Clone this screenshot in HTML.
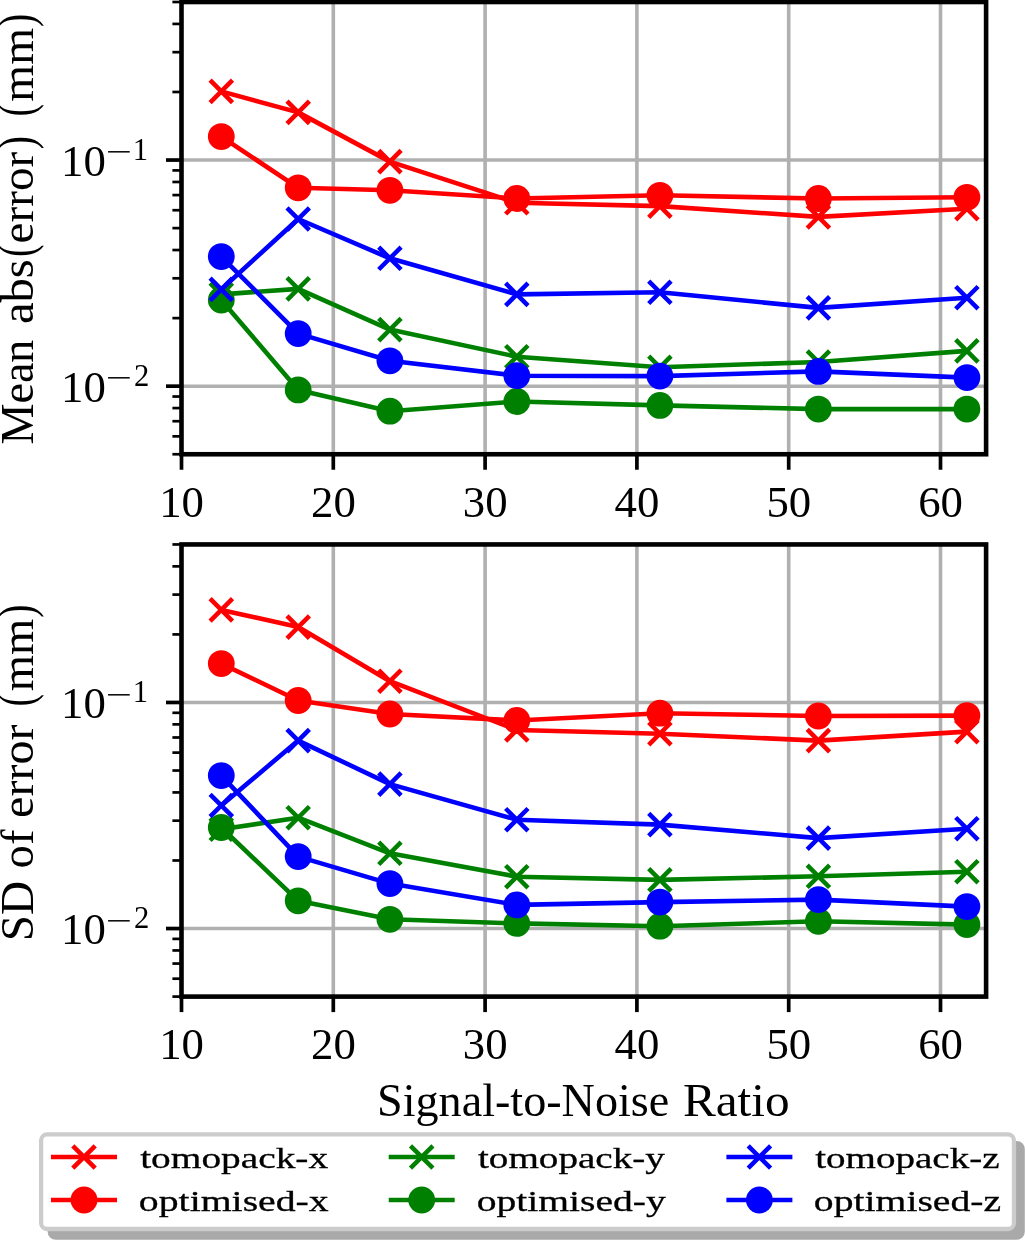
<!DOCTYPE html>
<html lang="en"><head><meta charset="utf-8"><title>Error vs Signal-to-Noise Ratio</title>
<style>html,body{margin:0;padding:0;background:#fff}svg{display:block}</style></head><body>
<svg width="1025" height="1240" viewBox="0 0 1025 1240">
<rect x="0" y="0" width="1025" height="1240" fill="#fff"/>
<defs>
<clipPath id="clip1"><rect x="181.5" y="2" width="804.6" height="452.25"/></clipPath>
<clipPath id="clip2"><rect x="181.5" y="544.45" width="804.6" height="452.15"/></clipPath>
</defs>
<g id="axes1">
<g stroke="#b0b0b0" stroke-width="3.6">
<line x1="333.3" y1="2" x2="333.3" y2="454.25"/>
<line x1="485.1" y1="2" x2="485.1" y2="454.25"/>
<line x1="636.9" y1="2" x2="636.9" y2="454.25"/>
<line x1="788.7" y1="2" x2="788.7" y2="454.25"/>
<line x1="940.5" y1="2" x2="940.5" y2="454.25"/>
<line x1="181.5" y1="160.05" x2="986.1" y2="160.05"/>
<line x1="181.5" y1="386.18" x2="986.1" y2="386.18"/>
</g>
<g clip-path="url(#clip1)">
<polyline points="221.3,91.4 298.2,112.4 389.9,161.6 516.8,202.8 659.9,206.1 818.4,216.9 966.9,208.7" fill="none" stroke="#ff0000" stroke-width="4.6" stroke-linejoin="round"/>
<path d="M210.1 80.2L232.5 102.6M210.1 102.6L232.5 80.2" stroke="#ff0000" stroke-width="4.5" fill="none"/>
<path d="M287 101.2L309.4 123.6M287 123.6L309.4 101.2" stroke="#ff0000" stroke-width="4.5" fill="none"/>
<path d="M378.7 150.4L401.1 172.8M378.7 172.8L401.1 150.4" stroke="#ff0000" stroke-width="4.5" fill="none"/>
<path d="M505.6 191.6L528 214M505.6 214L528 191.6" stroke="#ff0000" stroke-width="4.5" fill="none"/>
<path d="M648.7 194.9L671.1 217.3M648.7 217.3L671.1 194.9" stroke="#ff0000" stroke-width="4.5" fill="none"/>
<path d="M807.2 205.7L829.6 228.1M807.2 228.1L829.6 205.7" stroke="#ff0000" stroke-width="4.5" fill="none"/>
<path d="M955.7 197.5L978.1 219.9M955.7 219.9L978.1 197.5" stroke="#ff0000" stroke-width="4.5" fill="none"/>
<polyline points="221.3,136.6 298.2,187.8 389.9,190.3 516.8,198.5 659.9,195.3 818.4,198.5 966.9,197.3" fill="none" stroke="#ff0000" stroke-width="4.6" stroke-linejoin="round"/>
<circle cx="221.3" cy="136.6" r="13.4" fill="#ff0000"/>
<circle cx="298.2" cy="187.8" r="13.4" fill="#ff0000"/>
<circle cx="389.9" cy="190.3" r="13.4" fill="#ff0000"/>
<circle cx="516.8" cy="198.5" r="13.4" fill="#ff0000"/>
<circle cx="659.9" cy="195.3" r="13.4" fill="#ff0000"/>
<circle cx="818.4" cy="198.5" r="13.4" fill="#ff0000"/>
<circle cx="966.9" cy="197.3" r="13.4" fill="#ff0000"/>
<polyline points="221.3,294.4 298.2,288.9 389.9,329.6 516.8,356.7 659.9,367.3 818.4,362 966.9,350.9" fill="none" stroke="#008000" stroke-width="4.6" stroke-linejoin="round"/>
<path d="M210.1 283.2L232.5 305.6M210.1 305.6L232.5 283.2" stroke="#008000" stroke-width="4.5" fill="none"/>
<path d="M287 277.7L309.4 300.1M287 300.1L309.4 277.7" stroke="#008000" stroke-width="4.5" fill="none"/>
<path d="M378.7 318.4L401.1 340.8M378.7 340.8L401.1 318.4" stroke="#008000" stroke-width="4.5" fill="none"/>
<path d="M505.6 345.5L528 367.9M505.6 367.9L528 345.5" stroke="#008000" stroke-width="4.5" fill="none"/>
<path d="M648.7 356.1L671.1 378.5M648.7 378.5L671.1 356.1" stroke="#008000" stroke-width="4.5" fill="none"/>
<path d="M807.2 350.8L829.6 373.2M807.2 373.2L829.6 350.8" stroke="#008000" stroke-width="4.5" fill="none"/>
<path d="M955.7 339.7L978.1 362.1M955.7 362.1L978.1 339.7" stroke="#008000" stroke-width="4.5" fill="none"/>
<polyline points="221.3,300 298.2,389.9 389.9,411.2 516.8,401.5 659.9,405.4 818.4,409.1 966.9,409.1" fill="none" stroke="#008000" stroke-width="4.6" stroke-linejoin="round"/>
<circle cx="221.3" cy="300" r="13.4" fill="#008000"/>
<circle cx="298.2" cy="389.9" r="13.4" fill="#008000"/>
<circle cx="389.9" cy="411.2" r="13.4" fill="#008000"/>
<circle cx="516.8" cy="401.5" r="13.4" fill="#008000"/>
<circle cx="659.9" cy="405.4" r="13.4" fill="#008000"/>
<circle cx="818.4" cy="409.1" r="13.4" fill="#008000"/>
<circle cx="966.9" cy="409.1" r="13.4" fill="#008000"/>
<polyline points="221.3,289.4 298.2,219 389.9,258.3 516.8,294.4 659.9,292.3 818.4,307.9 966.9,297.7" fill="none" stroke="#0000ff" stroke-width="4.6" stroke-linejoin="round"/>
<path d="M210.1 278.2L232.5 300.6M210.1 300.6L232.5 278.2" stroke="#0000ff" stroke-width="4.5" fill="none"/>
<path d="M287 207.8L309.4 230.2M287 230.2L309.4 207.8" stroke="#0000ff" stroke-width="4.5" fill="none"/>
<path d="M378.7 247.1L401.1 269.5M378.7 269.5L401.1 247.1" stroke="#0000ff" stroke-width="4.5" fill="none"/>
<path d="M505.6 283.2L528 305.6M505.6 305.6L528 283.2" stroke="#0000ff" stroke-width="4.5" fill="none"/>
<path d="M648.7 281.1L671.1 303.5M648.7 303.5L671.1 281.1" stroke="#0000ff" stroke-width="4.5" fill="none"/>
<path d="M807.2 296.7L829.6 319.1M807.2 319.1L829.6 296.7" stroke="#0000ff" stroke-width="4.5" fill="none"/>
<path d="M955.7 286.5L978.1 308.9M955.7 308.9L978.1 286.5" stroke="#0000ff" stroke-width="4.5" fill="none"/>
<polyline points="221.3,256.6 298.2,333.6 389.9,360.8 516.8,375.7 659.9,376.1 818.4,371.4 966.9,377.6" fill="none" stroke="#0000ff" stroke-width="4.6" stroke-linejoin="round"/>
<circle cx="221.3" cy="256.6" r="13.4" fill="#0000ff"/>
<circle cx="298.2" cy="333.6" r="13.4" fill="#0000ff"/>
<circle cx="389.9" cy="360.8" r="13.4" fill="#0000ff"/>
<circle cx="516.8" cy="375.7" r="13.4" fill="#0000ff"/>
<circle cx="659.9" cy="376.1" r="13.4" fill="#0000ff"/>
<circle cx="818.4" cy="371.4" r="13.4" fill="#0000ff"/>
<circle cx="966.9" cy="377.6" r="13.4" fill="#0000ff"/>
</g>
<g stroke="#000" stroke-width="3.7">
<line x1="181.5" y1="454.25" x2="181.5" y2="469.75"/>
<line x1="333.3" y1="454.25" x2="333.3" y2="469.75"/>
<line x1="485.1" y1="454.25" x2="485.1" y2="469.75"/>
<line x1="636.9" y1="454.25" x2="636.9" y2="469.75"/>
<line x1="788.7" y1="454.25" x2="788.7" y2="469.75"/>
<line x1="940.5" y1="454.25" x2="940.5" y2="469.75"/>
<line x1="166" y1="160.05" x2="181.5" y2="160.05"/>
<line x1="166" y1="386.18" x2="181.5" y2="386.18"/>
</g>
<g stroke="#000" stroke-width="2.7">
<line x1="172.4" y1="454.25" x2="181.5" y2="454.25"/>
<line x1="172.4" y1="436.35" x2="181.5" y2="436.35"/>
<line x1="172.4" y1="421.21" x2="181.5" y2="421.21"/>
<line x1="172.4" y1="408.09" x2="181.5" y2="408.09"/>
<line x1="172.4" y1="396.53" x2="181.5" y2="396.53"/>
<line x1="172.4" y1="318.11" x2="181.5" y2="318.11"/>
<line x1="172.4" y1="278.29" x2="181.5" y2="278.29"/>
<line x1="172.4" y1="250.04" x2="181.5" y2="250.04"/>
<line x1="172.4" y1="228.12" x2="181.5" y2="228.12"/>
<line x1="172.4" y1="210.22" x2="181.5" y2="210.22"/>
<line x1="172.4" y1="195.08" x2="181.5" y2="195.08"/>
<line x1="172.4" y1="181.97" x2="181.5" y2="181.97"/>
<line x1="172.4" y1="170.4" x2="181.5" y2="170.4"/>
<line x1="172.4" y1="91.98" x2="181.5" y2="91.98"/>
<line x1="172.4" y1="52.17" x2="181.5" y2="52.17"/>
<line x1="172.4" y1="23.91" x2="181.5" y2="23.91"/>
<line x1="172.4" y1="2" x2="181.5" y2="2"/>
</g>
<rect x="181.5" y="2" width="804.6" height="452.25" fill="none" stroke="#000" stroke-width="4.6"/>
<g font-family='"Liberation Serif", serif' font-size="44.8" fill="#000" text-anchor="middle">
<text x="181.6" y="516.55">10</text>
<text x="333.4" y="516.55">20</text>
<text x="485.2" y="516.55">30</text>
<text x="637" y="516.55">40</text>
<text x="788.8" y="516.55">50</text>
<text x="940.6" y="516.55">60</text>
</g>
<text font-family='"Liberation Serif", serif' fill="#000" font-size="44.8" x="61" y="175.65">10<tspan font-size="30.6" x="105.56" y="162.15" textLength="26.27" lengthAdjust="spacingAndGlyphs">−</tspan><tspan font-size="30.6" x="132.75" y="159.85">1</tspan></text>
<text font-family='"Liberation Serif", serif' fill="#000" font-size="44.8" x="61" y="401.78">10<tspan font-size="30.6" x="105.56" y="388.28" textLength="26.27" lengthAdjust="spacingAndGlyphs">−</tspan><tspan font-size="30.6" x="133.93" y="385.98">2</tspan></text>
</g>
<g id="axes2">
<g stroke="#b0b0b0" stroke-width="3.6">
<line x1="333.3" y1="544.45" x2="333.3" y2="996.6"/>
<line x1="485.1" y1="544.45" x2="485.1" y2="996.6"/>
<line x1="636.9" y1="544.45" x2="636.9" y2="996.6"/>
<line x1="788.7" y1="544.45" x2="788.7" y2="996.6"/>
<line x1="940.5" y1="544.45" x2="940.5" y2="996.6"/>
<line x1="181.5" y1="702.47" x2="986.1" y2="702.47"/>
<line x1="181.5" y1="928.54" x2="986.1" y2="928.54"/>
</g>
<g clip-path="url(#clip2)">
<polyline points="221.3,609.9 298.2,627.1 389.9,681.2 516.8,730 659.9,733.7 818.4,740.6 966.9,731.6" fill="none" stroke="#ff0000" stroke-width="4.6" stroke-linejoin="round"/>
<path d="M210.1 598.7L232.5 621.1M210.1 621.1L232.5 598.7" stroke="#ff0000" stroke-width="4.5" fill="none"/>
<path d="M287 615.9L309.4 638.3M287 638.3L309.4 615.9" stroke="#ff0000" stroke-width="4.5" fill="none"/>
<path d="M378.7 670L401.1 692.4M378.7 692.4L401.1 670" stroke="#ff0000" stroke-width="4.5" fill="none"/>
<path d="M505.6 718.8L528 741.2M505.6 741.2L528 718.8" stroke="#ff0000" stroke-width="4.5" fill="none"/>
<path d="M648.7 722.5L671.1 744.9M648.7 744.9L671.1 722.5" stroke="#ff0000" stroke-width="4.5" fill="none"/>
<path d="M807.2 729.4L829.6 751.8M807.2 751.8L829.6 729.4" stroke="#ff0000" stroke-width="4.5" fill="none"/>
<path d="M955.7 720.4L978.1 742.8M955.7 742.8L978.1 720.4" stroke="#ff0000" stroke-width="4.5" fill="none"/>
<polyline points="221.3,663.6 298.2,700.5 389.9,714 516.8,720.5 659.9,713.2 818.4,716 966.9,715.6" fill="none" stroke="#ff0000" stroke-width="4.6" stroke-linejoin="round"/>
<circle cx="221.3" cy="663.6" r="13.4" fill="#ff0000"/>
<circle cx="298.2" cy="700.5" r="13.4" fill="#ff0000"/>
<circle cx="389.9" cy="714" r="13.4" fill="#ff0000"/>
<circle cx="516.8" cy="720.5" r="13.4" fill="#ff0000"/>
<circle cx="659.9" cy="713.2" r="13.4" fill="#ff0000"/>
<circle cx="818.4" cy="716" r="13.4" fill="#ff0000"/>
<circle cx="966.9" cy="715.6" r="13.4" fill="#ff0000"/>
<polyline points="221.3,829.3 298.2,817.7 389.9,853.3 516.8,876.7 659.9,879.9 818.4,876.3 966.9,871.7" fill="none" stroke="#008000" stroke-width="4.6" stroke-linejoin="round"/>
<path d="M210.1 818.1L232.5 840.5M210.1 840.5L232.5 818.1" stroke="#008000" stroke-width="4.5" fill="none"/>
<path d="M287 806.5L309.4 828.9M287 828.9L309.4 806.5" stroke="#008000" stroke-width="4.5" fill="none"/>
<path d="M378.7 842.1L401.1 864.5M378.7 864.5L401.1 842.1" stroke="#008000" stroke-width="4.5" fill="none"/>
<path d="M505.6 865.5L528 887.9M505.6 887.9L528 865.5" stroke="#008000" stroke-width="4.5" fill="none"/>
<path d="M648.7 868.7L671.1 891.1M648.7 891.1L671.1 868.7" stroke="#008000" stroke-width="4.5" fill="none"/>
<path d="M807.2 865.1L829.6 887.5M807.2 887.5L829.6 865.1" stroke="#008000" stroke-width="4.5" fill="none"/>
<path d="M955.7 860.5L978.1 882.9M955.7 882.9L978.1 860.5" stroke="#008000" stroke-width="4.5" fill="none"/>
<polyline points="221.3,827.5 298.2,900.8 389.9,919.3 516.8,923.4 659.9,926.2 818.4,921.3 966.9,924.6" fill="none" stroke="#008000" stroke-width="4.6" stroke-linejoin="round"/>
<circle cx="221.3" cy="827.5" r="13.4" fill="#008000"/>
<circle cx="298.2" cy="900.8" r="13.4" fill="#008000"/>
<circle cx="389.9" cy="919.3" r="13.4" fill="#008000"/>
<circle cx="516.8" cy="923.4" r="13.4" fill="#008000"/>
<circle cx="659.9" cy="926.2" r="13.4" fill="#008000"/>
<circle cx="818.4" cy="921.3" r="13.4" fill="#008000"/>
<circle cx="966.9" cy="924.6" r="13.4" fill="#008000"/>
<polyline points="221.3,805.5 298.2,740.6 389.9,784.1 516.8,819.7 659.9,824.6 818.4,838.1 966.9,828.7" fill="none" stroke="#0000ff" stroke-width="4.6" stroke-linejoin="round"/>
<path d="M210.1 794.3L232.5 816.7M210.1 816.7L232.5 794.3" stroke="#0000ff" stroke-width="4.5" fill="none"/>
<path d="M287 729.4L309.4 751.8M287 751.8L309.4 729.4" stroke="#0000ff" stroke-width="4.5" fill="none"/>
<path d="M378.7 772.9L401.1 795.3M378.7 795.3L401.1 772.9" stroke="#0000ff" stroke-width="4.5" fill="none"/>
<path d="M505.6 808.5L528 830.9M505.6 830.9L528 808.5" stroke="#0000ff" stroke-width="4.5" fill="none"/>
<path d="M648.7 813.4L671.1 835.8M648.7 835.8L671.1 813.4" stroke="#0000ff" stroke-width="4.5" fill="none"/>
<path d="M807.2 826.9L829.6 849.3M807.2 849.3L829.6 826.9" stroke="#0000ff" stroke-width="4.5" fill="none"/>
<path d="M955.7 817.5L978.1 839.9M955.7 839.9L978.1 817.5" stroke="#0000ff" stroke-width="4.5" fill="none"/>
<polyline points="221.3,775.6 298.2,856.6 389.9,883.6 516.8,904.9 659.9,902.1 818.4,899.6 966.9,906.6" fill="none" stroke="#0000ff" stroke-width="4.6" stroke-linejoin="round"/>
<circle cx="221.3" cy="775.6" r="13.4" fill="#0000ff"/>
<circle cx="298.2" cy="856.6" r="13.4" fill="#0000ff"/>
<circle cx="389.9" cy="883.6" r="13.4" fill="#0000ff"/>
<circle cx="516.8" cy="904.9" r="13.4" fill="#0000ff"/>
<circle cx="659.9" cy="902.1" r="13.4" fill="#0000ff"/>
<circle cx="818.4" cy="899.6" r="13.4" fill="#0000ff"/>
<circle cx="966.9" cy="906.6" r="13.4" fill="#0000ff"/>
</g>
<g stroke="#000" stroke-width="3.7">
<line x1="181.5" y1="996.6" x2="181.5" y2="1012.1"/>
<line x1="333.3" y1="996.6" x2="333.3" y2="1012.1"/>
<line x1="485.1" y1="996.6" x2="485.1" y2="1012.1"/>
<line x1="636.9" y1="996.6" x2="636.9" y2="1012.1"/>
<line x1="788.7" y1="996.6" x2="788.7" y2="1012.1"/>
<line x1="940.5" y1="996.6" x2="940.5" y2="1012.1"/>
<line x1="166" y1="702.47" x2="181.5" y2="702.47"/>
<line x1="166" y1="928.54" x2="181.5" y2="928.54"/>
</g>
<g stroke="#000" stroke-width="2.7">
<line x1="172.4" y1="996.6" x2="181.5" y2="996.6"/>
<line x1="172.4" y1="978.7" x2="181.5" y2="978.7"/>
<line x1="172.4" y1="963.56" x2="181.5" y2="963.56"/>
<line x1="172.4" y1="950.45" x2="181.5" y2="950.45"/>
<line x1="172.4" y1="938.89" x2="181.5" y2="938.89"/>
<line x1="172.4" y1="860.49" x2="181.5" y2="860.49"/>
<line x1="172.4" y1="820.68" x2="181.5" y2="820.68"/>
<line x1="172.4" y1="792.43" x2="181.5" y2="792.43"/>
<line x1="172.4" y1="770.53" x2="181.5" y2="770.53"/>
<line x1="172.4" y1="752.62" x2="181.5" y2="752.62"/>
<line x1="172.4" y1="737.49" x2="181.5" y2="737.49"/>
<line x1="172.4" y1="724.38" x2="181.5" y2="724.38"/>
<line x1="172.4" y1="712.81" x2="181.5" y2="712.81"/>
<line x1="172.4" y1="634.41" x2="181.5" y2="634.41"/>
<line x1="172.4" y1="594.6" x2="181.5" y2="594.6"/>
<line x1="172.4" y1="566.36" x2="181.5" y2="566.36"/>
<line x1="172.4" y1="544.45" x2="181.5" y2="544.45"/>
</g>
<rect x="181.5" y="544.45" width="804.6" height="452.15" fill="none" stroke="#000" stroke-width="4.6"/>
<g font-family='"Liberation Serif", serif' font-size="44.8" fill="#000" text-anchor="middle">
<text x="181.6" y="1058.9">10</text>
<text x="333.4" y="1058.9">20</text>
<text x="485.2" y="1058.9">30</text>
<text x="637" y="1058.9">40</text>
<text x="788.8" y="1058.9">50</text>
<text x="940.6" y="1058.9">60</text>
</g>
<text font-family='"Liberation Serif", serif' fill="#000" font-size="44.8" x="61" y="718.07">10<tspan font-size="30.6" x="105.56" y="704.57" textLength="26.27" lengthAdjust="spacingAndGlyphs">−</tspan><tspan font-size="30.6" x="132.75" y="702.27">1</tspan></text>
<text font-family='"Liberation Serif", serif' fill="#000" font-size="44.8" x="61" y="944.14">10<tspan font-size="30.6" x="105.56" y="930.64" textLength="26.27" lengthAdjust="spacingAndGlyphs">−</tspan><tspan font-size="30.6" x="133.93" y="928.34">2</tspan></text>
</g>
<text font-family='"Liberation Serif", serif' font-size="47" fill="#000" transform="translate(33.4 0) rotate(-90)"><tspan x="-444.58" textLength="104.98" lengthAdjust="spacingAndGlyphs">Mean</tspan> <tspan x="-324.07" textLength="64.78" lengthAdjust="spacingAndGlyphs">abs</tspan><tspan x="-256.73" font-size="51.7" textLength="12.3" lengthAdjust="spacingAndGlyphs">(</tspan><tspan x="-243.51" textLength="91.74" lengthAdjust="spacingAndGlyphs">error</tspan><tspan x="-149.14" font-size="51.7" textLength="13.25" lengthAdjust="spacingAndGlyphs">)</tspan> <tspan x="-116.13" font-size="51.7" textLength="12.3" lengthAdjust="spacingAndGlyphs">(</tspan><tspan x="-101.71" textLength="73.85" lengthAdjust="spacingAndGlyphs">mm</tspan><tspan x="-27.04" font-size="51.7" textLength="13.25" lengthAdjust="spacingAndGlyphs">)</tspan></text>
<text font-family='"Liberation Serif", serif' font-size="47" fill="#000" transform="translate(33.4 0) rotate(-90)"><tspan x="-941.31" textLength="60.2" lengthAdjust="spacingAndGlyphs">SD</tspan> <tspan x="-868.39" textLength="38.94" lengthAdjust="spacingAndGlyphs">of</tspan> <tspan x="-817.95" textLength="93.59" lengthAdjust="spacingAndGlyphs">error</tspan> <tspan x="-706.23" font-size="51.7" textLength="12.3" lengthAdjust="spacingAndGlyphs">(</tspan><tspan x="-691.29" textLength="72.61" lengthAdjust="spacingAndGlyphs">mm</tspan><tspan x="-617.64" font-size="51.7" textLength="13.25" lengthAdjust="spacingAndGlyphs">)</tspan></text>
<text font-family='"Liberation Serif", serif' font-size="47" fill="#000" y="1115.6"><tspan x="377.06" textLength="292.16" lengthAdjust="spacingAndGlyphs">Signal-to-Noise</tspan> <tspan x="682.95" textLength="106.66" lengthAdjust="spacingAndGlyphs">Ratio</tspan></text>
<g id="legend">
<rect x="49.8" y="1143.1" width="972.85" height="94.6" rx="6" ry="6" fill="#a9a9a9" stroke="#a9a9a9" stroke-width="4.3"/>
<rect x="41.1" y="1134.4" width="972.85" height="94.6" rx="6" ry="6" fill="#fff" stroke="#cccccc" stroke-width="4.3"/>
<line x1="51" y1="1157" x2="117" y2="1157" stroke="#ff0000" stroke-width="4.6"/>
<path d="M72.8 1145.8L95.2 1168.2M72.8 1168.2L95.2 1145.8" stroke="#ff0000" stroke-width="4.5" fill="none"/>
<text font-family='"Liberation Serif", serif' font-size="30" fill="#000" stroke="#000" stroke-width="0.3" x="140.2" y="1167.8" textLength="187.89" lengthAdjust="spacingAndGlyphs">tomopack-x</text>
<line x1="51" y1="1200" x2="117" y2="1200" stroke="#ff0000" stroke-width="4.6"/>
<circle cx="84" cy="1200" r="13.4" fill="#ff0000"/>
<text font-family='"Liberation Serif", serif' font-size="30" fill="#000" stroke="#000" stroke-width="0.3" x="138.88" y="1210.8" textLength="189.86" lengthAdjust="spacingAndGlyphs">optimised-x</text>
<line x1="388.7" y1="1157" x2="454.7" y2="1157" stroke="#008000" stroke-width="4.6"/>
<path d="M410.5 1145.8L432.9 1168.2M410.5 1168.2L432.9 1145.8" stroke="#008000" stroke-width="4.5" fill="none"/>
<text font-family='"Liberation Serif", serif' font-size="30" fill="#000" stroke="#000" stroke-width="0.3" x="478" y="1167.8" textLength="186.89" lengthAdjust="spacingAndGlyphs">tomopack-y</text>
<line x1="388.7" y1="1200" x2="454.7" y2="1200" stroke="#008000" stroke-width="4.6"/>
<circle cx="421.7" cy="1200" r="13.4" fill="#008000"/>
<text font-family='"Liberation Serif", serif' font-size="30" fill="#000" stroke="#000" stroke-width="0.3" x="476.68" y="1210.8" textLength="189.15" lengthAdjust="spacingAndGlyphs">optimised-y</text>
<line x1="726.4" y1="1157" x2="792.4" y2="1157" stroke="#0000ff" stroke-width="4.6"/>
<path d="M748.2 1145.8L770.6 1168.2M748.2 1168.2L770.6 1145.8" stroke="#0000ff" stroke-width="4.5" fill="none"/>
<text font-family='"Liberation Serif", serif' font-size="30" fill="#000" stroke="#000" stroke-width="0.3" x="815.2" y="1167.8" textLength="184.39" lengthAdjust="spacingAndGlyphs">tomopack-z</text>
<line x1="726.4" y1="1200" x2="792.4" y2="1200" stroke="#0000ff" stroke-width="4.6"/>
<circle cx="759.4" cy="1200" r="13.4" fill="#0000ff"/>
<text font-family='"Liberation Serif", serif' font-size="30" fill="#000" stroke="#000" stroke-width="0.3" x="813.88" y="1210.8" textLength="187.17" lengthAdjust="spacingAndGlyphs">optimised-z</text>
</g>
</svg>
</body></html>
